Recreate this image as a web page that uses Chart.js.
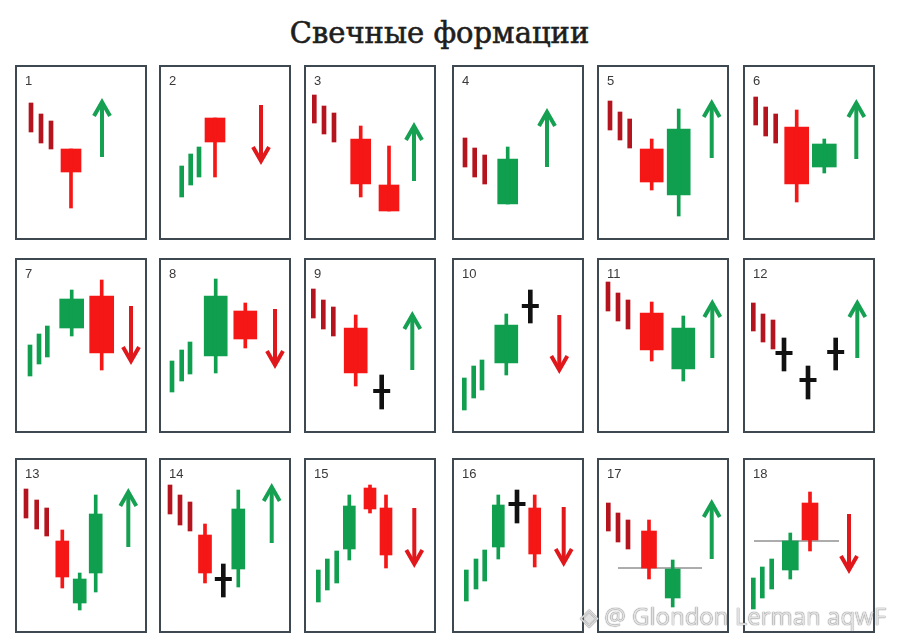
<!DOCTYPE html>
<html>
<head>
<meta charset="utf-8">
<script src="https://cdn.jsdelivr.net/npm/chart.js@4.4.1/dist/chart.umd.min.js"></script>
<style>
    body { margin: 0; background: #fff; width: 899px; height: 643px; position: relative; overflow: hidden; }
    .title { position: absolute; left: 0; top: 18px; width: 879px; text-align: center;
             font: 29px/30px "DejaVu Serif", serif; color: #1e1e1e; -webkit-text-stroke: 0.6px #1e1e1e; }
    .panel { position: absolute; width: 132px; height: 175px; border: 2px solid #3e4850; box-sizing: border-box; }
    .panel canvas { position: absolute; left: -2px; top: -2px; }
    .num { position: absolute; left: 8px; top: 6px; font: 13px "Liberation Sans", sans-serif; color: #3a3a3a; z-index: 2; }
    .mark { position: absolute; left: 580px; top: 604px; font: 24px/24px "Open Sans", sans-serif;
            color: rgba(236,236,236,0.92); text-shadow: 0 0 1px #777, 0 0 1px #777; white-space: nowrap; z-index: 5; }
</style>
</head>
<body>
<div class="title">Свечные формации</div>
<div id="panels"></div>
<div class="mark">◈ @ Glondon Lerman aqwF</div>
<script>
/**
 * Свечные формации: 18 панелей, в каждой — тренд, свечи и стрелка
 */

// номера панелей и направление предшествующего тренда
const panelNumbers = [1, 2, 3, 4, 5, 6, 7, 8, 9, 10, 11, 12, 13, 14, 15, 16, 17, 18];
const trendDirection = ['down', 'up', 'down', 'down', 'down', 'down',
                        'up', 'up', 'down', 'up', 'down', 'down',
                        'down', 'down', 'up', 'up', 'down', 'up'];

// палочки тренда: [время, максимум, минимум]
const trendSticks = [
    [[16, 137, 108], [26, 126, 97], [36, 119, 91]],
    [[22.7, 74, 43], [31.7, 86, 55], [40, 93, 63]],
    [[10.3, 145, 117], [20, 134, 106], [30, 127, 98]],
    [[13, 102, 73], [22.7, 92, 63], [32.7, 85, 56]],
    [[13, 139, 110], [23, 128, 100], [32.7, 121, 92]],
    [[12.7, 143, 115], [22.7, 133, 104], [32.7, 126, 97]],
    [[15, 88, 57], [24, 99, 69], [32.3, 107, 76]],
    [[13, 72, 41], [22.7, 83, 52], [31, 91, 59]],
    [[9.3, 144, 115], [19.3, 133, 104], [29.3, 126, 97]],
    [[12.3, 55, 23], [21.7, 67, 35], [30, 73, 43]],
    [[11, 151, 122], [21, 140, 112], [31, 133, 104]],
    [[10.3, 130, 102], [20, 119, 91], [30, 113, 84]],
    [[11, 144, 115], [21.7, 133, 104], [31.7, 125, 97]],
    [[11, 148, 119], [21, 138, 108], [31, 131, 102]],
    [[14.3, 63, 31], [23.3, 74, 43], [32.7, 82, 50]],
    [[14.3, 63, 32], [24, 74, 44], [32.7, 83, 52]],
    [[11.3, 130, 102], [21, 120, 91], [31, 113, 84]],
    [[10.3, 55, 24], [19.3, 66, 35], [28.7, 74, 44]]
];

// свечи: [время, открытие, максимум, минимум, закрытие]
const candles = [
    [[56, 91, 91, 32, 68]],
    [[56, 122, 122, 63, 98]],
    [[56.7, 101, 114, 43, 56], [85, 55, 94, 29, 29]],
    [[55.7, 36, 93, 36, 81]],
    [[54.7, 91, 101, 50, 58], [81.7, 45, 131, 24, 111]],
    [[53.7, 113, 130, 38, 56], [81.3, 73, 101, 67, 96]],
    [[56.7, 105, 143, 97, 134], [86.7, 137, 153, 63, 80]],
    [[56.7, 77, 154, 60, 137], [86.3, 122, 130, 85, 94]],
    [[51.7, 105, 118, 47, 60]],
    [[54.3, 70, 119, 58, 108]],
    [[54.7, 120, 131, 72, 83], [86.3, 64, 117, 52, 105]],
    [],
    [[47.3, 92, 103, 45, 56], [64.7, 30, 60, 23, 54], [80.7, 60, 138, 41, 119]],
    [[46, 98, 109, 50, 60], [79.3, 64, 143, 46, 124]],
    [[45.3, 84, 138, 73, 127], [66, 145, 148, 120, 124], [82, 125, 138, 65, 78]],
    [[46.3, 86, 138, 74, 128], [82.7, 125, 138, 66, 79]],
    [[52, 102, 113, 54, 65], [75.7, 35, 73, 26, 64]],
    [[47.3, 63, 100, 54, 92], [67, 130, 141, 82, 93]]
];

// доджи (крестики): [время, максимум, минимум, цена]
const dojis = [
    [], [], [], [], [], [],
    [], [], [[77.7, 58, 24, 42]], [[78.3, 143, 110, 127]], [], [[41, 95, 62, 80], [65, 67, 34, 53], [92.7, 95, 63, 81]],
    [], [[64.3, 69, 36, 54]], [], [[65, 143, 110, 129]], [], []
];

// стрелки: [время, начало, острие]
const arrows = [
    [87, 83, 138], [102, 135, 79], [110, 59, 114], [95, 73, 128], [114.7, 82, 137], [113.3, 81, 137],
    [116, 127, 72], [116, 124, 68], [108.3, 63, 118], [107.3, 118, 63], [115.3, 75, 130], [114.3, 75, 130],
    [113.3, 86, 141], [112.7, 90, 146], [110.3, 125, 69], [111.7, 126, 70], [114.7, 74, 130], [106, 119, 63]
];

// уровни (горизонтальные линии): [от, до, цена]
const levelLines = [
    null, null, null, null, null, null,
    null, null, null, null, null, null,
    null, null, null, null, [21, 105, 65], [11, 96, 92]
];

// оформление
const panelLeft = [15, 159, 304, 452, 597, 743];
const panelTop = [65, 258, 458];
const bodyWidth = [20, 20, 20, 20, 23, 24, 24, 23, 23, 23, 23, 20, 13, 13, 12, 12, 15, 16];
const RED = '#f51616';
const DARK_RED = '#b3141d';
const GREEN = '#0f9f4f';
const ARROW_GREEN = '#16a052';
const ARROW_RED = '#e0181c';
const BLACK = '#111111';
const DOJI_HALF = 8.5;
const HEAD_W = 8;
const HEAD_H = 14;

function segment(points, color, width) {
    return {
        type: 'line',
        data: points,
        borderColor: color,
        borderWidth: width,
        pointRadius: 0,
        fill: false,
        tension: 0,
        borderCapStyle: 'butt',
        borderJoinStyle: 'miter'
    };
}

function buildPanel(i) {
    const row = Math.floor(i / 6);
    const col = i % 6;

    const box = document.createElement('div');
    box.className = 'panel';
    box.style.left = panelLeft[col] + 'px';
    box.style.top = panelTop[row] + 'px';
    const num = document.createElement('div');
    num.className = 'num';
    num.textContent = panelNumbers[i];
    const canvas = document.createElement('canvas');
    canvas.width = 132;
    canvas.height = 175;
    canvas.style.width = '132px';
    canvas.style.height = '175px';
    box.appendChild(canvas);
    box.appendChild(num);
    document.getElementById('panels').appendChild(box);

    const candleColor = candles[i].map(c => c[4] >= c[1] ? GREEN : RED);
    const datasets = [
        {
            type: 'bar',
            data: trendSticks[i].map(s => ({ x: s[0], y: [s[2], s[1]] })),
            backgroundColor: trendDirection[i] === 'down' ? DARK_RED : GREEN,
            barThickness: 4,
            grouped: false
        },
        {
            type: 'bar',
            data: candles[i].map(c => ({ x: c[0], y: [c[3], c[2]] })),
            backgroundColor: candleColor,
            barThickness: 3,
            grouped: false
        },
        {
            type: 'bar',
            data: candles[i].map(c => ({ x: c[0], y: [Math.min(c[1], c[4]), Math.max(c[1], c[4])] })),
            backgroundColor: candleColor,
            barThickness: bodyWidth[i],
            grouped: false
        },
        {
            type: 'bar',
            data: dojis[i].map(d => ({ x: d[0], y: [d[2], d[1]] })),
            backgroundColor: BLACK,
            barThickness: 4,
            grouped: false
        }
    ];

    // горизонтальная черта доджи
    dojis[i].forEach(d => {
        datasets.push(segment([{ x: d[0] - DOJI_HALF, y: d[3] }, { x: d[0] + DOJI_HALF, y: d[3] }], BLACK, 4));
    });

    // уровень
    const lvl = levelLines[i];
    if (lvl) {
        datasets.push(segment([{ x: lvl[0], y: lvl[2] }, { x: lvl[1], y: lvl[2] }], '#5a5a5a', 1));
    }

    // стрелка
    const a = arrows[i];
    const up = a[2] > a[1];
    const aColor = up ? ARROW_GREEN : ARROW_RED;
    const back = up ? -HEAD_H : HEAD_H;
    datasets.push(segment([{ x: a[0], y: a[1] }, { x: a[0], y: a[2] + (up ? -1 : 1) }], aColor, 4));
    datasets.push(segment([
        { x: a[0] - HEAD_W, y: a[2] + back },
        { x: a[0], y: a[2] },
        { x: a[0] + HEAD_W, y: a[2] + back }
    ], aColor, 4));

    new Chart(canvas.getContext('2d'), {
        type: 'bar',
        data: { datasets: datasets },
        options: {
            responsive: false,
            animation: false,
            events: [],
            layout: { padding: 0 },
            plugins: { legend: { display: false }, tooltip: { enabled: false } },
            scales: {
                x: { type: 'linear', min: 0, max: 132, offset: false, display: false },
                y: { type: 'linear', min: 0, max: 175, display: false }
            }
        }
    });
}

panelNumbers.forEach((n, i) => buildPanel(i));
</script>
</body>
</html>
